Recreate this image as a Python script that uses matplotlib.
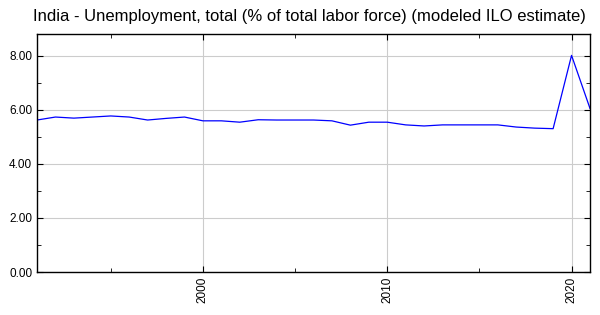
import matplotlib.pyplot as plt
from matplotlib.ticker import MultipleLocator, FormatStrFormatter

# India unemployment rate, % of total labor force (modeled ILO estimate)
years = list(range(1991, 2022))
rates = [5.62, 5.73, 5.69, 5.73, 5.77, 5.73, 5.62, 5.68, 5.73, 5.59,
         5.59, 5.54, 5.63, 5.62, 5.62, 5.62, 5.59, 5.43, 5.54, 5.54,
         5.44, 5.40, 5.44, 5.44, 5.44, 5.44, 5.36, 5.32, 5.30, 8.01,
         6.05]

title = 'India - Unemployment, total (% of total labor force) (modeled ILO estimate)'

plt.rcParams['font.family'] = ['Liberation Sans', 'DejaVu Sans']

fig = plt.figure(figsize=(6, 3.15), dpi=100)
ax = fig.add_axes([0.0617, 0.1365, 0.9216, 0.7555])

ax.plot(years, rates, color='#0000ff', linewidth=0.9)

ax.set_xlim(1991, 2021)
ax.set_ylim(0, 8.8)

ax.xaxis.set_major_locator(MultipleLocator(10))
ax.xaxis.set_minor_locator(MultipleLocator(5))
ax.yaxis.set_major_locator(MultipleLocator(2))
ax.yaxis.set_minor_locator(MultipleLocator(1))
ax.yaxis.set_major_formatter(FormatStrFormatter('%.2f'))

ax.grid(which='major', color='#cccccc', linewidth=0.8)
ax.set_axisbelow(True)

ax.tick_params(which='both', direction='in', top=True, right=True,
               labelsize=8.5, colors='black')
ax.tick_params(which='major', length=4)
ax.tick_params(which='minor', length=3)
for lbl in ax.get_xticklabels():
    lbl.set_rotation(90)

for s in ax.spines.values():
    s.set_linewidth(1.0)

fig.suptitle(title, x=0.515, y=0.97, fontsize=12)

fig.savefig('out.png', dpi=100)
